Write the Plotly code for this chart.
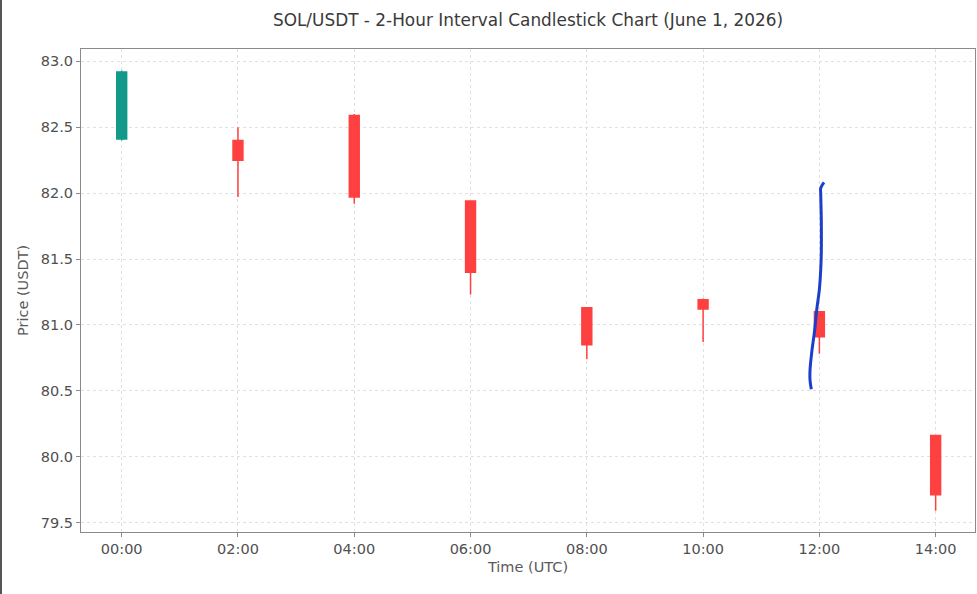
import plotly.graph_objects as go
from datetime import datetime, timedelta

# ---- data ----
times = ["2026-06-01 00:00", "2026-06-01 02:00", "2026-06-01 04:00", "2026-06-01 06:00",
         "2026-06-01 08:00", "2026-06-01 10:00", "2026-06-01 12:00", "2026-06-01 14:00"]
opens = [82.41, 82.40, 82.59, 81.94, 81.13, 81.19, 81.10, 80.16]
highs = [82.93, 82.50, 82.60, 81.94, 81.13, 81.20, 81.10, 80.16]
lows = [82.40, 81.97, 81.92, 81.23, 80.74, 80.87, 80.78, 79.59]
closes = [82.92, 82.25, 81.97, 81.40, 80.85, 81.12, 80.91, 79.71]

tick_vals = times
tick_text = ["00:00", "02:00", "04:00", "06:00", "08:00", "10:00", "12:00", "14:00"]
y_ticks = [79.5, 80.0, 80.5, 81.0, 81.5, 82.0, 82.5, 83.0]

# hand-drawn blue annotation stroke (hours after midnight, price)
stroke_hours = [12.079, 12.023, 12.023, 12.033, 12.033, 12.023, 11.999, 11.954,
                11.919, 11.873, 11.839, 11.839, 11.861]
stroke_prices = [82.081, 82.038, 82.000, 81.797, 81.544, 81.417, 81.265, 81.113,
                 80.960, 80.808, 80.657, 80.581, 80.511]

base = datetime(2026, 6, 1)
stroke_x = [base + timedelta(hours=h) for h in stroke_hours]

FONT = "DejaVu Sans"

fig = go.Figure()
fig.add_trace(go.Candlestick(
    x=times, open=opens, high=highs, low=lows, close=closes,
    increasing=dict(line=dict(color="#12998A", width=1.5), fillcolor="#12998A"),
    decreasing=dict(line=dict(color="#FF4040", width=1.5), fillcolor="#FF4040"),
    whiskerwidth=0, showlegend=False, hoverinfo="skip",
))
fig.add_trace(go.Scatter(
    x=stroke_x, y=stroke_prices, mode="lines",
    line=dict(color="#1B3FCB", width=3, shape="spline"),
    showlegend=False, hoverinfo="skip",
))

W, H = 977, 594
ml, mr, mt, mb = 81, 2, 49, 62
pw, ph = W - ml - mr, H - mt - mb

fig.update_layout(
    width=W, height=H,
    margin=dict(l=ml, r=mr, t=mt, b=mb),
    paper_bgcolor="white", plot_bgcolor="white",
    boxgap=0.915, boxgroupgap=0,
    font=dict(family=FONT, color="#555", size=14),
    title=dict(text="SOL/USDT - 2-Hour Interval Candlestick Chart (June 1, 2026)",
               x=(ml + pw / 2) / W, xanchor="center", y=1 - 20 / H, yanchor="middle",
               font=dict(family=FONT, size=16.9, color="#3a3a3a")),
    xaxis=dict(
        type="date",
        range=["2026-05-31 23:18:00", "2026-06-01 14:40:36"],
        tickvals=tick_vals, ticktext=tick_text,
        showgrid=True, gridcolor="#e0e0e0", griddash="3px,3px", gridwidth=1,
        showline=True, linecolor="#8a8a8a", linewidth=1, mirror=True,
        ticks="outside", ticklen=4, tickcolor="#8a8a8a",
        tickfont=dict(size=14.5, color="#505050"),
        title=dict(text="Time (UTC)", font=dict(size=14.5, color="#5a5a5a"), standoff=5),
        rangeslider=dict(visible=False), zeroline=False,
    ),
    yaxis=dict(
        range=[79.428, 83.094],
        tickvals=y_ticks, ticktext=[f"{v:.1f}" for v in y_ticks],
        showgrid=True, gridcolor="#e0e0e0", griddash="3px,3px", gridwidth=1,
        showline=True, linecolor="#8a8a8a", linewidth=1, mirror=True,
        ticks="outside", ticklen=4, tickcolor="#8a8a8a",
        tickfont=dict(size=14.5, color="#505050"),
        title=dict(text="Price (USDT)", font=dict(size=14.5, color="#5a5a5a"), standoff=8),
        zeroline=False,
    ),
    shapes=[dict(type="line", xref="paper", yref="paper",
                 x0=(1 - ml) / pw, x1=(1 - ml) / pw,
                 y0=-mb / ph, y1=1 + mt / ph,
                 line=dict(color="#555", width=2))],
)

fig.write_html("out.html", config={"displayModeBar": False},
               post_script="document.body.style.margin='0';document.body.style.overflow='hidden';")
